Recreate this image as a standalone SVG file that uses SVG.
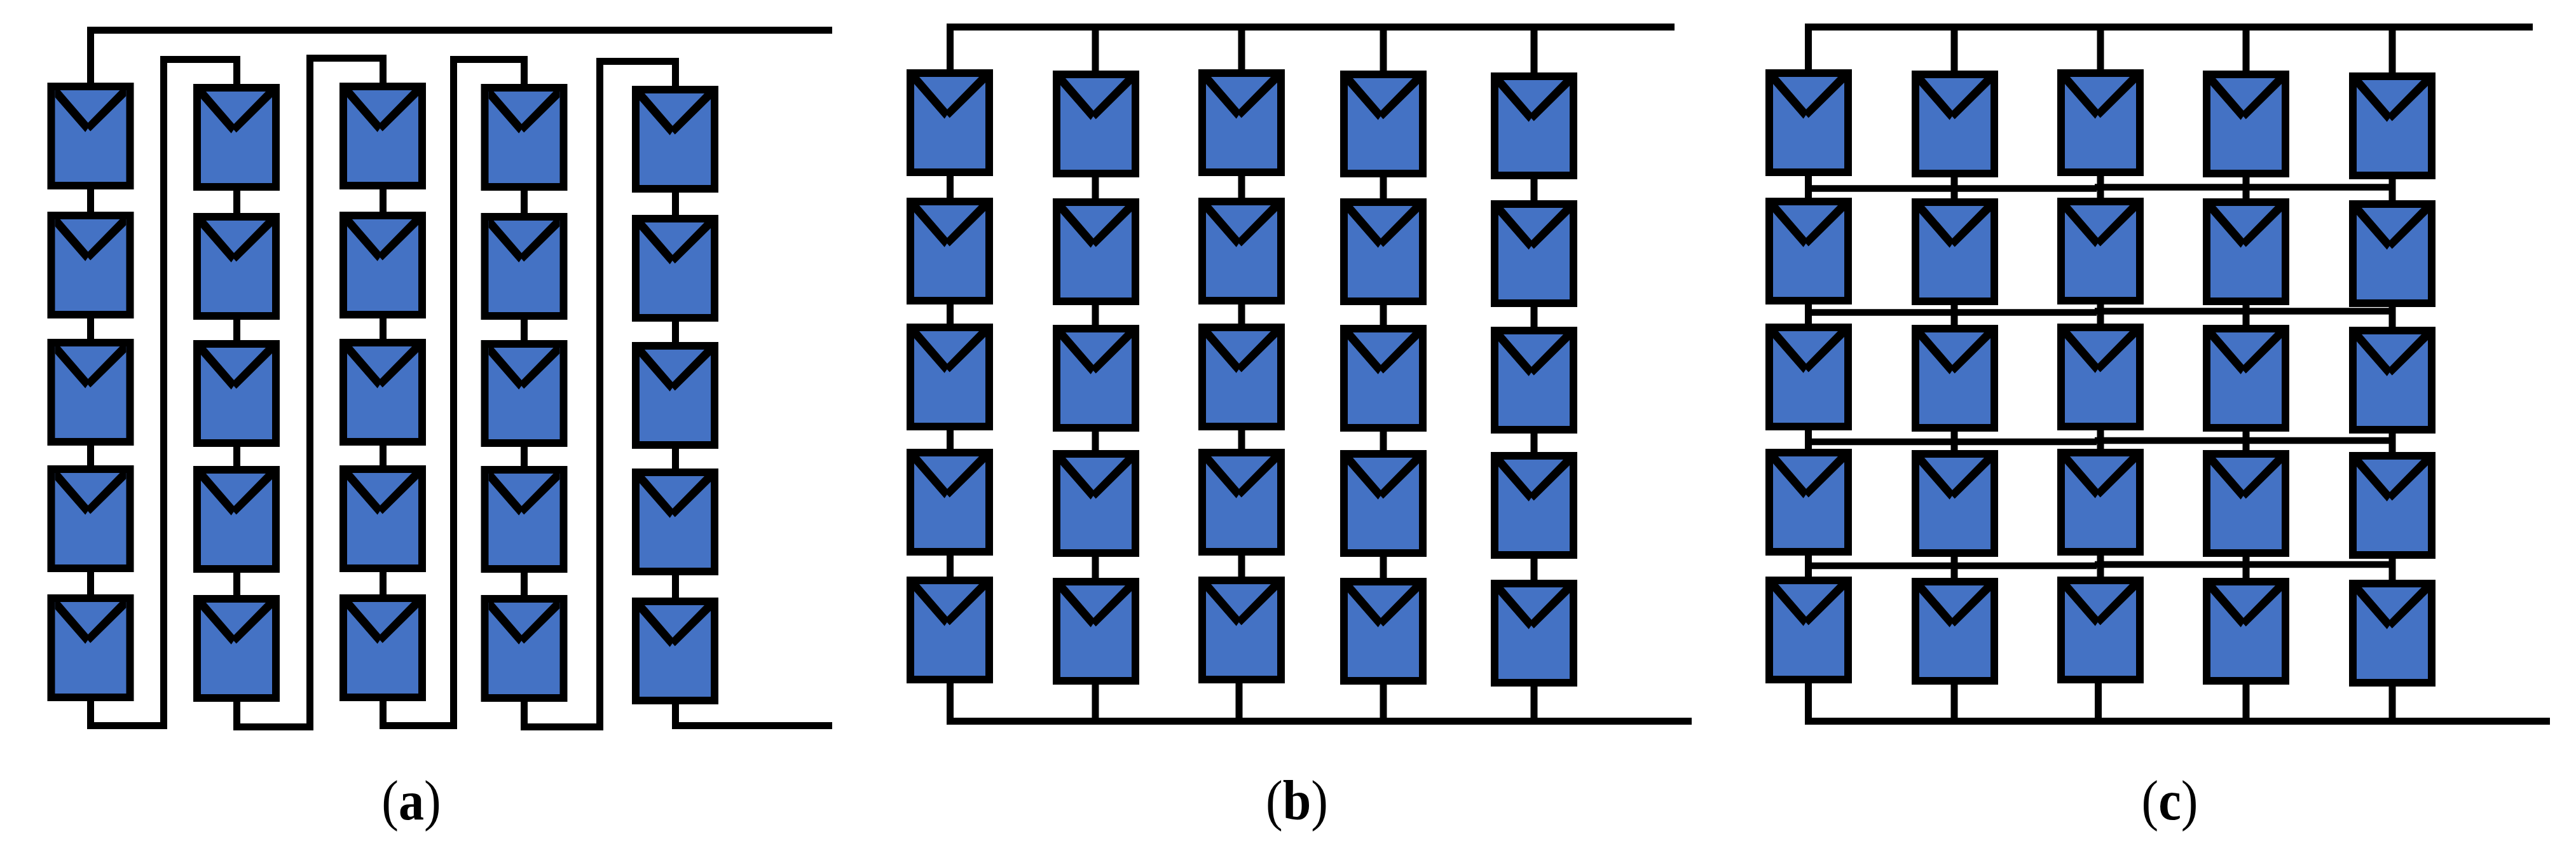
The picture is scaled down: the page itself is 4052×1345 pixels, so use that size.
<svg xmlns="http://www.w3.org/2000/svg" width="4052" height="1345" viewBox="0 0 4052 1345">
<style>
.w{fill:none;stroke:#000;stroke-width:11;stroke-linejoin:miter}
.t{fill:none;stroke:#000;stroke-width:10.5}
.l{font-family:"Liberation Serif","Times New Roman",serif;font-size:89px;fill:#000;text-anchor:middle}
.l tspan{font-weight:bold}
</style>
<defs>
<g id="pv">
<rect width="136" height="168" fill="#000"/>
<rect x="12" y="12" width="112" height="144" fill="#4472C4"/>
<polygon points="12,12 20,12 64,63 114,12 124,12 124,21 67.7,76.5 63.7,72 59.7,77.7 12,23" fill="#000"/>
</g>
</defs>
<rect width="4052" height="1345" fill="#fff"/>
<g id="connectors">
<path class="w" d="M1309 47.5H142.5V1141.5H257.5V93.5H372.5V1143.5H487.5V91.5H602.5V1141.5H713.5V93.5H824.5V1143.5H943.5V96.5H1062.5V1141.5H1309"/>
<path class="w" d="M2634 42.5H1494.5V1134.5H2661"/>
<path class="w" d="M1723 42.5V1134.5M1953 42.5V1000M1949 1060V1134.5M2176 42.5V1134.5M2413 42.5V1134.5"/>
<path class="w" d="M3984 42.5H2844.5V1134.5H4011"/>
<path class="w" d="M3074 42.5V1134.5M3304 42.5V1000M3300.5 1060V1134.5M3533 42.5V1134.5M3763 42.5V1134.5"/>
<path class="t" d="M2844.5 296.5H3298M3295 294.5H3763M2844.5 491.5H3298M3295 489.5H3763M2844.5 695H3298M3295 693H3763M2844.5 890H3298M3295 888H3763"/>
</g>
<g id="panel-a">
<g id="a11" transform="translate(74.5 130)"><use href="#pv"/></g>
<g id="a21" transform="translate(74.5 333)"><use href="#pv"/></g>
<g id="a31" transform="translate(74.5 533)"><use href="#pv"/></g>
<g id="a41" transform="translate(74.5 732)"><use href="#pv"/></g>
<g id="a51" transform="translate(74.5 935)"><use href="#pv"/></g>
<g id="a12" transform="translate(304 132)"><use href="#pv"/></g>
<g id="a22" transform="translate(304 335)"><use href="#pv"/></g>
<g id="a32" transform="translate(304 535)"><use href="#pv"/></g>
<g id="a42" transform="translate(304 733)"><use href="#pv"/></g>
<g id="a52" transform="translate(304 936)"><use href="#pv"/></g>
<g id="a13" transform="translate(534 130)"><use href="#pv"/></g>
<g id="a23" transform="translate(534 333)"><use href="#pv"/></g>
<g id="a33" transform="translate(534 533)"><use href="#pv"/></g>
<g id="a43" transform="translate(534 732)"><use href="#pv"/></g>
<g id="a53" transform="translate(534 935)"><use href="#pv"/></g>
<g id="a14" transform="translate(756.5 132)"><use href="#pv"/></g>
<g id="a24" transform="translate(756.5 335)"><use href="#pv"/></g>
<g id="a34" transform="translate(756.5 535)"><use href="#pv"/></g>
<g id="a44" transform="translate(756.5 733)"><use href="#pv"/></g>
<g id="a54" transform="translate(756.5 936)"><use href="#pv"/></g>
<g id="a15" transform="translate(994 135)"><use href="#pv"/></g>
<g id="a25" transform="translate(994 338)"><use href="#pv"/></g>
<g id="a35" transform="translate(994 538)"><use href="#pv"/></g>
<g id="a45" transform="translate(994 737)"><use href="#pv"/></g>
<g id="a55" transform="translate(994 940)"><use href="#pv"/></g>
</g>
<g id="panel-b">
<g id="b11" transform="translate(1426 109)"><use href="#pv"/></g>
<g id="b21" transform="translate(1426 311)"><use href="#pv"/></g>
<g id="b31" transform="translate(1426 509)"><use href="#pv"/></g>
<g id="b41" transform="translate(1426 706)"><use href="#pv"/></g>
<g id="b51" transform="translate(1426 907)"><use href="#pv"/></g>
<g id="b12" transform="translate(1656 111)"><use href="#pv"/></g>
<g id="b22" transform="translate(1656 312)"><use href="#pv"/></g>
<g id="b32" transform="translate(1656 511)"><use href="#pv"/></g>
<g id="b42" transform="translate(1656 708)"><use href="#pv"/></g>
<g id="b52" transform="translate(1656 909)"><use href="#pv"/></g>
<g id="b13" transform="translate(1885 109)"><use href="#pv"/></g>
<g id="b23" transform="translate(1885 311)"><use href="#pv"/></g>
<g id="b33" transform="translate(1885 509)"><use href="#pv"/></g>
<g id="b43" transform="translate(1885 706)"><use href="#pv"/></g>
<g id="b53" transform="translate(1885 907)"><use href="#pv"/></g>
<g id="b14" transform="translate(2108 111)"><use href="#pv"/></g>
<g id="b24" transform="translate(2108 312)"><use href="#pv"/></g>
<g id="b34" transform="translate(2108 511)"><use href="#pv"/></g>
<g id="b44" transform="translate(2108 708)"><use href="#pv"/></g>
<g id="b54" transform="translate(2108 909)"><use href="#pv"/></g>
<g id="b15" transform="translate(2345 114)"><use href="#pv"/></g>
<g id="b25" transform="translate(2345 315)"><use href="#pv"/></g>
<g id="b35" transform="translate(2345 514)"><use href="#pv"/></g>
<g id="b45" transform="translate(2345 711)"><use href="#pv"/></g>
<g id="b55" transform="translate(2345 912)"><use href="#pv"/></g>
</g>
<g id="panel-c">
<g id="c11" transform="translate(2777 109)"><use href="#pv"/></g>
<g id="c21" transform="translate(2777 311)"><use href="#pv"/></g>
<g id="c31" transform="translate(2777 509)"><use href="#pv"/></g>
<g id="c41" transform="translate(2777 706)"><use href="#pv"/></g>
<g id="c51" transform="translate(2777 907)"><use href="#pv"/></g>
<g id="c12" transform="translate(3007 111)"><use href="#pv"/></g>
<g id="c22" transform="translate(3007 312)"><use href="#pv"/></g>
<g id="c32" transform="translate(3007 511)"><use href="#pv"/></g>
<g id="c42" transform="translate(3007 708)"><use href="#pv"/></g>
<g id="c52" transform="translate(3007 909)"><use href="#pv"/></g>
<g id="c13" transform="translate(3236 109)"><use href="#pv"/></g>
<g id="c23" transform="translate(3236 311)"><use href="#pv"/></g>
<g id="c33" transform="translate(3236 509)"><use href="#pv"/></g>
<g id="c43" transform="translate(3236 706)"><use href="#pv"/></g>
<g id="c53" transform="translate(3236 907)"><use href="#pv"/></g>
<g id="c14" transform="translate(3465 111)"><use href="#pv"/></g>
<g id="c24" transform="translate(3465 312)"><use href="#pv"/></g>
<g id="c34" transform="translate(3465 511)"><use href="#pv"/></g>
<g id="c44" transform="translate(3465 708)"><use href="#pv"/></g>
<g id="c54" transform="translate(3465 909)"><use href="#pv"/></g>
<g id="c15" transform="translate(3695 114)"><use href="#pv"/></g>
<g id="c25" transform="translate(3695 315)"><use href="#pv"/></g>
<g id="c35" transform="translate(3695 514)"><use href="#pv"/></g>
<g id="c45" transform="translate(3695 711)"><use href="#pv"/></g>
<g id="c55" transform="translate(3695 912)"><use href="#pv"/></g>
</g>
<g id="labels">
<text class="l" transform="translate(647 1289) scale(.9 1)">(<tspan>a</tspan>)</text>
<text class="l" transform="translate(2040 1289) scale(.9 1)">(<tspan>b</tspan>)</text>
<text class="l" transform="translate(3413 1289) scale(.9 1)">(<tspan>c</tspan>)</text>
</g>
</svg>
